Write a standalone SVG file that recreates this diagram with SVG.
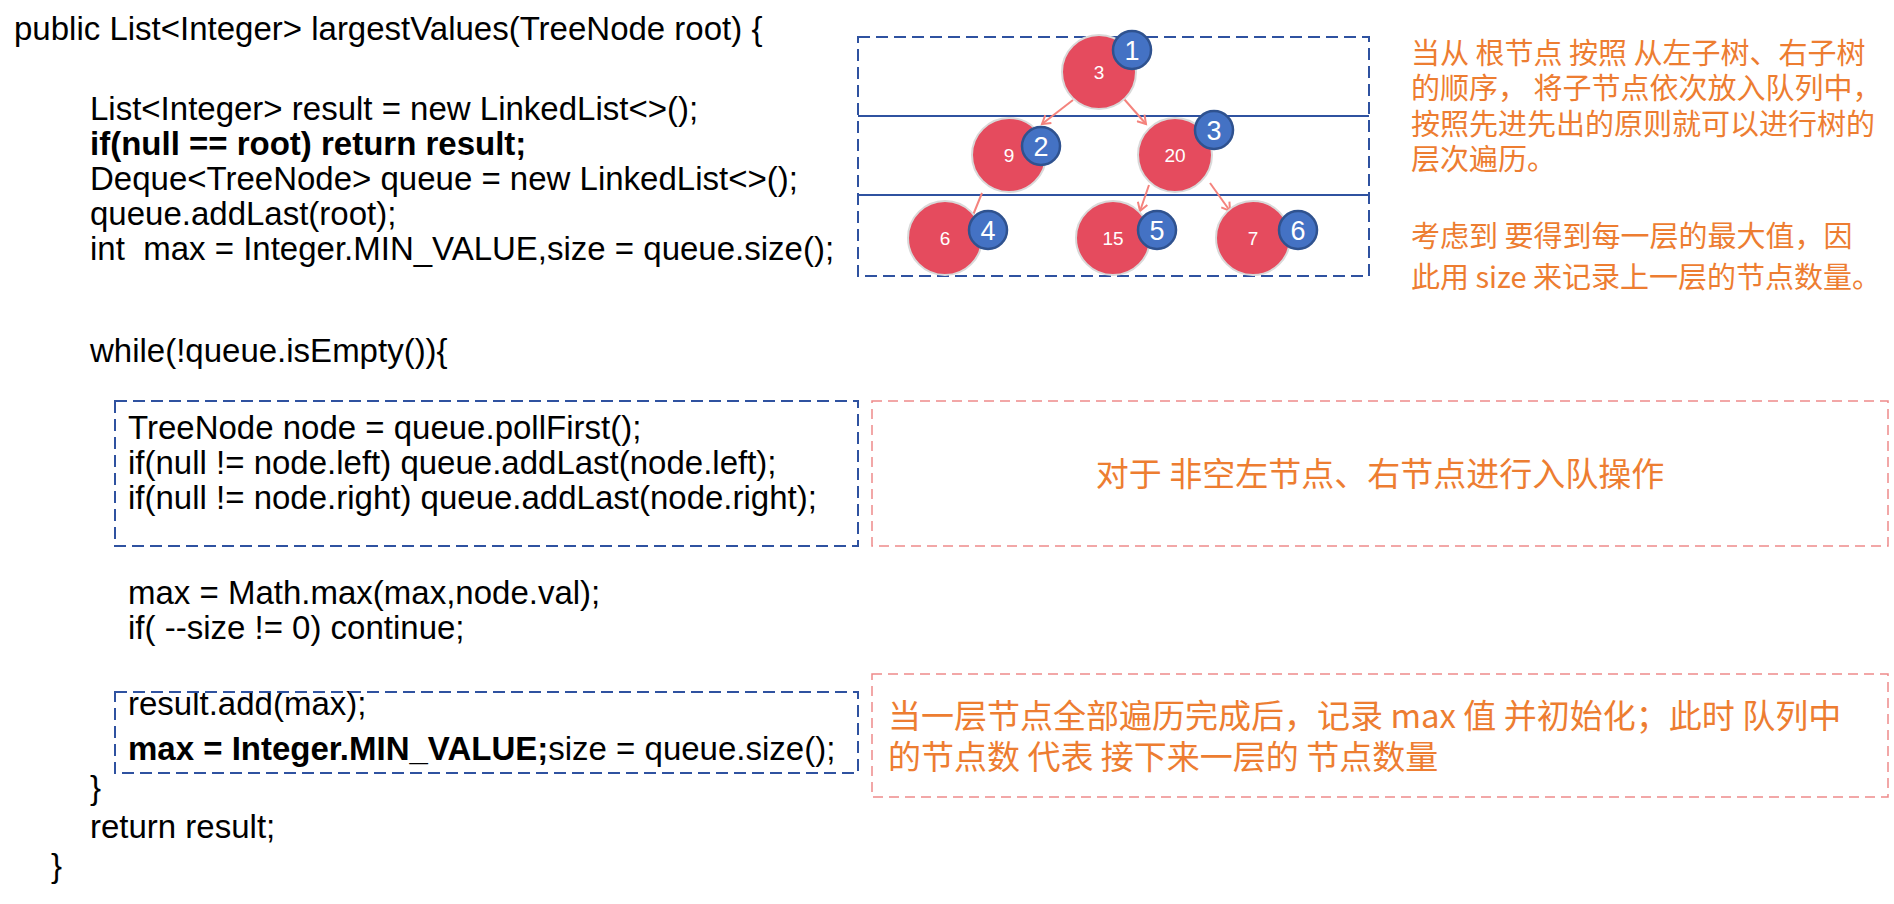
<svg xmlns="http://www.w3.org/2000/svg" width="1894" height="904" viewBox="0 0 1894 904">
<style>
.code{font-family:"Liberation Sans",Arial,sans-serif;font-size:33px;fill:#000}
.b{font-weight:bold}
.note{font-family:"Noto Sans CJK SC","Liberation Sans",sans-serif;font-size:29px;fill:#ED7D31}
.note2{font-family:"Noto Sans CJK SC","Liberation Sans",sans-serif;font-size:33px;fill:#ED7D31}
.bbox{fill:none;stroke:#2F52A0;stroke-width:2;stroke-dasharray:12 6}
.rbox{fill:none;stroke:#EE8A8A;stroke-width:1.5;stroke-dasharray:10 6}
.node{fill:#E54B5E;stroke:#D9D9D9;stroke-width:2}
.badge{fill:#4472C4;stroke:#2F528F;stroke-width:2.5}
.nt{font-family:"Liberation Sans",Arial,sans-serif;font-size:19px;fill:#fff;text-anchor:middle}
.bt{font-family:"Liberation Sans",Arial,sans-serif;font-size:27px;fill:#fff;text-anchor:middle}
.edge{stroke:#F4837D;stroke-width:2;fill:none;marker-end:url(#ah)}
</style>
<defs>
<marker id="ah" markerWidth="12" markerHeight="12" refX="9" refY="6" orient="auto" markerUnits="userSpaceOnUse">
<path d="M1,1 L9,6 L1,11" fill="none" stroke="#F4837D" stroke-width="2"/>
</marker>
</defs>
<rect width="1894" height="904" fill="#fff"/>
<g id="code">
<text class="code" x="14" y="40">public List&lt;Integer&gt; largestValues(TreeNode root) {</text>
<text class="code" x="90" y="120">List&lt;Integer&gt; result = new LinkedList&lt;&gt;();</text>
<text class="code b" x="90" y="155">if(null == root) return result;</text>
<text class="code" x="90" y="190">Deque&lt;TreeNode&gt; queue = new LinkedList&lt;&gt;();</text>
<text class="code" x="90" y="225">queue.addLast(root);</text>
<text class="code" x="90" y="260" xml:space="preserve">int  max = Integer.MIN_VALUE,size = queue.size();</text>
<text class="code" x="90" y="362">while(!queue.isEmpty()){</text>
<text class="code" x="128" y="439">TreeNode node = queue.pollFirst();</text>
<text class="code" x="128" y="474">if(null != node.left) queue.addLast(node.left);</text>
<text class="code" x="128" y="509">if(null != node.right) queue.addLast(node.right);</text>
<text class="code" x="128" y="604">max = Math.max(max,node.val);</text>
<text class="code" x="128" y="639">if( --size != 0) continue;</text>
<text class="code" x="128" y="715">result.add(max);</text>
<text class="code" x="128" y="760"><tspan class="b">max = Integer.MIN_VALUE;</tspan>size = queue.size();</text>
<text class="code" x="90" y="799">}</text>
<text class="code" x="90" y="838">return result;</text>
<text class="code" x="51" y="877">}</text>
</g>
<g id="code-box-1"><rect class="bbox" x="115" y="401" width="743" height="145"/></g>
<g id="code-box-2"><rect class="bbox" x="115" y="692" width="743" height="81"/></g>
<g id="note-box-1">
<rect class="rbox" x="872" y="401" width="1016" height="145"/>
<text class="note2" x="1380" y="486" text-anchor="middle">对于 非空左节点、右节点进行入队操作</text>
</g>
<g id="note-box-2">
<rect class="rbox" x="872" y="674" width="1016" height="123"/>
<text class="note2" x="888" y="728">当一层节点全部遍历完成后，记录 max 值 并初始化；此时 队列中</text>
<text class="note2" x="888" y="769">的节点数 代表 接下来一层的 节点数量</text>
</g>
<g id="note-right">
<text class="note" x="1411" y="64">当从 根节点 按照 从左子树、右子树</text>
<text class="note" x="1411" y="99">的顺序， 将子节点依次放入队列中，</text>
<text class="note" x="1411" y="135">按照先进先出的原则就可以进行树的</text>
<text class="note" x="1411" y="170">层次遍历。</text>
<text class="note" x="1411" y="247">考虑到 要得到每一层的最大值，因</text>
<text class="note" x="1411" y="288">此用 size 来记录上一层的节点数量。</text>
</g>
<g id="tree-frame">
<rect class="bbox" x="858" y="37" width="511" height="239"/>
<line x1="858" y1="116" x2="1369" y2="116" stroke="#2F52A0" stroke-width="2"/>
<line x1="858" y1="195" x2="1369" y2="195" stroke="#2F52A0" stroke-width="2"/>
</g>
<g id="connectors">
<line class="edge" x1="1073" y1="100" x2="1042" y2="124"/>
<line class="edge" x1="1124" y1="99" x2="1146" y2="124"/>
<line class="edge" x1="982" y1="193" x2="971" y2="220"/>
<line class="edge" x1="1149" y1="185" x2="1140" y2="211"/>
<line class="edge" x1="1210" y1="183" x2="1230" y2="211"/>
</g>
<g id="n3"><circle class="node" cx="1099" cy="72" r="37"/><text class="nt" x="1099" y="79">3</text><circle class="badge" cx="1132" cy="50" r="19"/><text class="bt" x="1132" y="60">1</text></g>
<g id="n9"><circle class="node" cx="1009" cy="155" r="37"/><text class="nt" x="1009" y="162">9</text><circle class="badge" cx="1041" cy="146" r="19"/><text class="bt" x="1041" y="156">2</text></g>
<g id="n20"><circle class="node" cx="1175" cy="155" r="37"/><text class="nt" x="1175" y="162">20</text><circle class="badge" cx="1214" cy="130" r="19"/><text class="bt" x="1214" y="140">3</text></g>
<g id="n6"><circle class="node" cx="945" cy="238" r="37"/><text class="nt" x="945" y="245">6</text><circle class="badge" cx="988" cy="230" r="19"/><text class="bt" x="988" y="240">4</text></g>
<g id="n15"><circle class="node" cx="1113" cy="238" r="37"/><text class="nt" x="1113" y="245">15</text><circle class="badge" cx="1157" cy="230" r="19"/><text class="bt" x="1157" y="240">5</text></g>
<g id="n7"><circle class="node" cx="1253" cy="238" r="37"/><text class="nt" x="1253" y="245">7</text><circle class="badge" cx="1298" cy="230" r="19"/><text class="bt" x="1298" y="240">6</text></g>
</svg>
